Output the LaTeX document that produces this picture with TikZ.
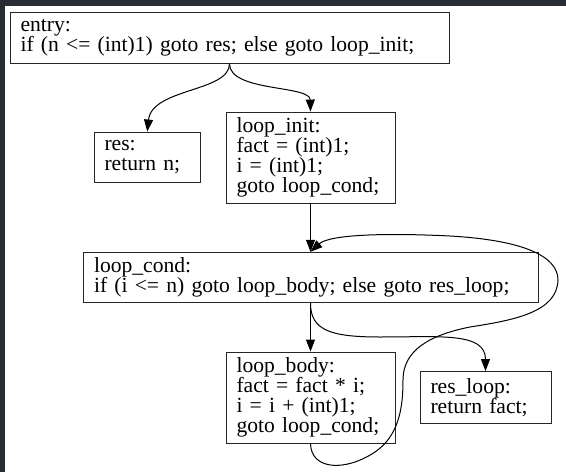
\documentclass[tikz,border=0pt]{standalone}
\usepackage{fontspec}
\setmainfont{Liberation Serif}
\usetikzlibrary{arrows.meta}
\definecolor{framecol}{HTML}{282C34}
\begin{document}
\begin{tikzpicture}[x=1pt,y=-1pt,
  box/.style={draw=black!85, line width=0.9pt, fill=white, align=left,
    inner xsep=10.5pt, inner ysep=0pt, font=\fontsize{21.6}{20}\selectfont},
  edge/.style={line width=1pt, -{Triangle[length=12pt,width=9pt]}}]
\fill[white] (0,0) rectangle (566,472);
\fill[framecol] (0,0) rectangle (566,6);
\fill[framecol] (0,0) rectangle (5,472);
\useasboundingbox (0,0) rectangle (566,472);

\node[box, text width=418pt, minimum height=51pt] (entry) at (229.5,37.75)
  {\mbox{entry:}\\\mbox{if (n <= (int)1) goto res; else goto loop\_init;}};
\node[box, text width=85.5pt, minimum height=50.5pt] (res) at (147.25,157.25)
  {\mbox{res:}\\\mbox{return n;}};
\node[box, text width=148pt, minimum height=91pt] (init) at (310.5,157.5)
  {\mbox{loop\_init:}\\\mbox{fact = (int)1;}\\\mbox{i = (int)1;}\\\mbox{goto loop\_cond;}};
\node[box, text width=433.5pt, minimum height=50.5pt] (cond) at (310.75,277.5)
  {\mbox{loop\_cond:}\\\mbox{if (i <= n) goto loop\_body; else goto res\_loop;}};
\node[box, text width=148pt, minimum height=91pt] (body) at (310.5,397.5)
  {\mbox{loop\_body:}\\\mbox{fact = fact * i;}\\\mbox{i = i + (int)1;}\\\mbox{goto loop\_cond;}};
\node[box, text width=110pt, minimum height=51.5pt] (resloop) at (485.5,397.25)
  {\mbox{res\_loop:}\\\mbox{return fact;}};

\draw[edge] (entry.south) .. controls (229.5,92) and (152,88) .. (res.north);
\draw[edge] (entry.south) .. controls (229.5,92) and (310,85) .. (init.north);
\draw[edge] (init.south) -- (cond.north -| init.south);
\draw[edge] (cond.south -| body.north) -- (body.north);
\draw[edge] (cond.south -| body.north) .. controls (310.5,330) and (330,337) .. (380,337)
  .. controls (440,337) and (485.5,332) .. (resloop.north);
\draw[edge] (body.south) .. controls (311,470) and (345,472) .. (375,452)
  .. controls (400,435) and (403,405) .. (403,380)
  .. controls (403,350) and (430,335) .. (470,327)
  .. controls (515,320) and (557,312) .. (558,280)
  .. controls (558,255) and (520,240) .. (450,236)
  .. controls (390,233) and (330,234) .. (cond.north -| init.south);
\end{tikzpicture}
\end{document}
